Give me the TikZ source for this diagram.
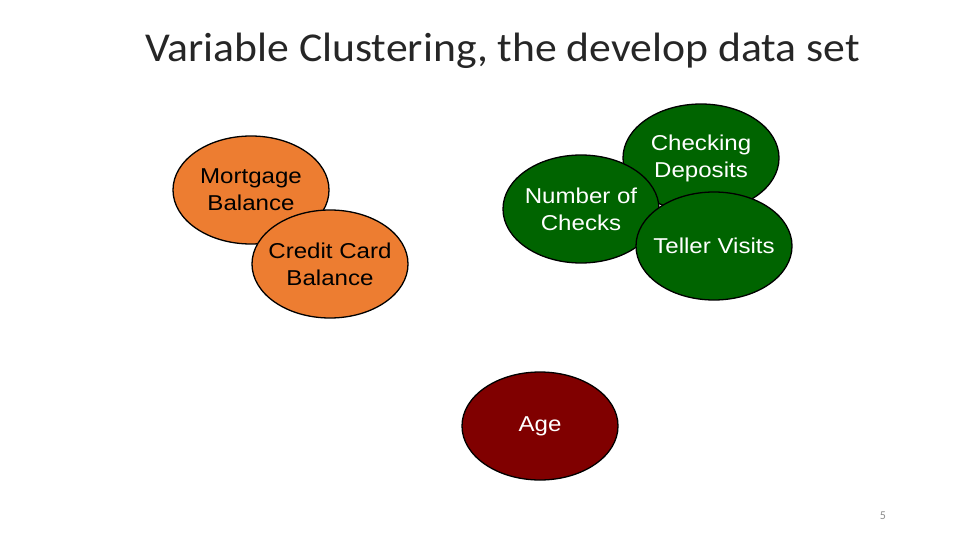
\documentclass[tikz,border=0pt]{standalone}
\usepackage{fontspec}
\usepackage{tikz}
\usetikzlibrary{shapes.geometric}
\newfontfamily\titlefont[FakeStretch=1.065]{Carlito}
\newfontfamily\pagefont{Carlito}
\newfontfamily\ellfont[FakeStretch=1.12]{Liberation Sans}
\definecolor{mortorange}{HTML}{ED7D31}
\definecolor{bankgreen}{HTML}{006400}
\definecolor{agered}{HTML}{800000}

\begin{document}
\begin{tikzpicture}[x=1pt,y=-1pt,
    var/.style={draw=black, line width=1.3pt, ellipse, minimum width=156pt, minimum height=108pt,
                inner xsep=-10pt, inner ysep=0pt, align=center, font=\ellfont\fontsize{21.5}{27}\selectfont},
    orangevar/.style={var, fill=mortorange, text=black},
    greenvar/.style={var, fill=bankgreen, text=white},
    redvar/.style={var, fill=agered, text=white}]
  \useasboundingbox (0,0) rectangle (960,540);
  \node[anchor=base west, font=\titlefont\fontsize{41}{48}\selectfont, text=black!85, inner sep=0pt](title) at (145,62) {Variable Clustering, the develop data set};
      \node[orangevar](mortgage)  at (251,190) {Mortgage\\Balance};
      \node[orangevar](credit)  at (330,264) {Credit Card\\Balance};
    \node[greenvar](deposits)  at (701,158) {Checking\\Deposits};
    \node[greenvar](checks)  at (581,209) {Number of\\Checks};
    \node[greenvar](teller)  at (714,246) {Teller Visits};
      \node[redvar](age)  at (540,426) {Age};
  \node[anchor=base, font=\pagefont\fontsize{12}{14}\selectfont, text=black!45, inner sep=0pt](page) at (883,519) {5};
\end{tikzpicture}
\end{document}
